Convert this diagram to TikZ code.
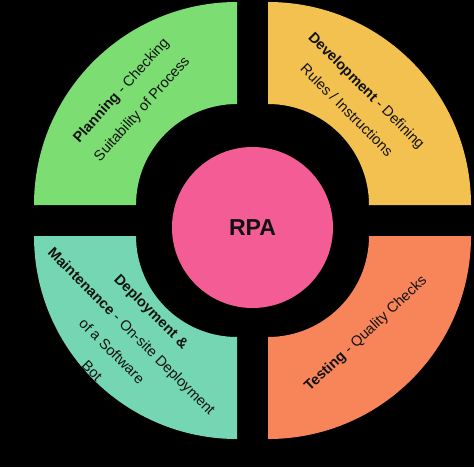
\documentclass[tikz,border=0pt]{standalone}
\usepackage{fontspec}
\setmainfont{Liberation Sans}

\tikzset{every picture/.style={line width=0.75pt}}
\tikzset{sectortext/.style={text={rgb, 255:red, 17; green, 17; blue, 17 }, align=center, inner sep=0pt, font=\fontsize{10.9}{21}\selectfont}}

\begin{document}
\begin{tikzpicture}[x=0.75pt,y=0.75pt,yscale=-1,xscale=1]
%set diagram left start at 0, and has height of 467
\useasboundingbox (0,0) rectangle (474,467);

%Shape: Rectangle [background]
\fill [color={rgb, 255:red, 0; green, 0; blue, 0 }] (0,0) rectangle (474,467);

%Shape: Arc [planning]
\fill [color={rgb, 255:red, 123; green, 221; blue, 114 }] (34,205) arc[start angle=180, end angle=270, radius=203] -- (237,104) arc[start angle=270, end angle=180, radius=101] -- cycle ;
%Shape: Arc [development]
\fill [color={rgb, 255:red, 242; green, 193; blue, 80 }] (268,2) arc[start angle=270, end angle=360, radius=203] -- (369,205) arc[start angle=0, end angle=-90, radius=101] -- cycle ;
%Shape: Arc [deployment]
\fill [color={rgb, 255:red, 116; green, 214; blue, 179 }] (34,236) arc[start angle=180, end angle=90, radius=203] -- (237,337) arc[start angle=90, end angle=180, radius=101] -- cycle ;
%Shape: Arc [testing]
\fill [color={rgb, 255:red, 248; green, 133; blue, 90 }] (471,236) arc[start angle=0, end angle=90, radius=203] -- (268,337) arc[start angle=90, end angle=0, radius=101] -- cycle ;

%Shape: Circle [rpa]
\node (rpa) [circle, inner sep=0pt, minimum size=120.75pt, fill={rgb, 255:red, 243; green, 92; blue, 149 }, text={rgb, 255:red, 17; green, 17; blue, 17 }, font=\fontsize{17.3}{20}\selectfont\bfseries] at (252.5,227.5) {RPA};

% Text Node
\node (planning) [sectortext, rotate=48] at (132,100) {\textbf{Planning} - Checking\\Suitability of Process};
% Text Node
\node (development) [sectortext, rotate=-45] at (357,100) {\textbf{Development} - Defining\\Rules / Instructions};
% Text Node
\node (deployment) [sectortext, rotate=-45] at (122,341) {\textbf{Deployment \&}\\\textbf{Maintenance} - On-site Deployment\\of a Software\\Bot};
% Text Node
\node (testing) [sectortext, rotate=43] at (366,334) {\textbf{Testing} - Quality Checks};

\end{tikzpicture}
\end{document}
